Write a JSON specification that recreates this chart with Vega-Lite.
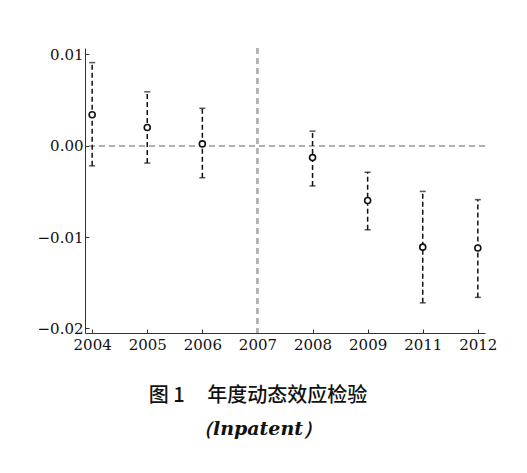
{
  "$schema": "https://vega.github.io/schema/vega-lite/v6.json",
  "autosize": {"type": "none"},
  "padding": {"left": 85, "top": 48, "right": 42, "bottom": 140},
  "width": 400,
  "height": 285,
  "background": "white",
  "title": {
    "text": "图 1\u00a0\u00a0\u00a0\u00a0\u00a0年度动态效应检验",
    "subtitle": "（lnpatent）",
    "orient": "bottom",
    "anchor": "middle",
    "dx": -27,
    "offset": 34,
    "font": "Noto Sans CJK SC",
    "fontSize": 20,
    "fontWeight": 500,
    "color": "#111",
    "subtitleFont": "DejaVu Serif",
    "subtitleFontSize": 19,
    "subtitleFontWeight": "bold",
    "subtitleFontStyle": "italic",
    "subtitleColor": "#111",
    "subtitlePadding": 14
  },
  "data": {
    "values": [
      {"year": "2004", "est": 0.0034, "lo": -0.0022, "hi": 0.0091},
      {"year": "2005", "est": 0.0020, "lo": -0.0019, "hi": 0.0059},
      {"year": "2006", "est": 0.0002, "lo": -0.0035, "hi": 0.0041},
      {"year": "2008", "est": -0.0013, "lo": -0.0044, "hi": 0.0016},
      {"year": "2009", "est": -0.0060, "lo": -0.0092, "hi": -0.0029},
      {"year": "2011", "est": -0.0111, "lo": -0.0172, "hi": -0.0050},
      {"year": "2012", "est": -0.0112, "lo": -0.0166, "hi": -0.0059}
    ]
  },
  "encoding": {
    "x": {
      "field": "year",
      "type": "nominal",
      "scale": {"type": "point", "domain": ["2004", "2005", "2006", "2007", "2008", "2009", "2011", "2012"], "padding": 0.13},
      "axis": {
        "title": null,
        "labelAngle": 0,
        "labelFont": "DejaVu Serif",
        "labelFontSize": 15,
        "labelColor": "#111",
        "labelPadding": 8,
        "domainColor": "#333",
        "tickColor": "#333",
        "tickSize": -4,
        "grid": false
      }
    }
  },
  "layer": [
    {
      "mark": {"type": "rule", "color": "#b0b0b0", "strokeDash": [6, 4], "strokeWidth": 1.5},
      "encoding": {"x": null, "y": {"datum": 0, "type": "quantitative"}}
    },
    {
      "mark": {"type": "rule", "color": "#b0b0b0", "strokeDash": [6, 4], "strokeWidth": 1.5},
      "encoding": {"x": {"datum": "2007", "type": "nominal"}}
    },
    {
      "mark": {"type": "rule", "color": "#111", "strokeDash": [5, 3], "strokeWidth": 1.5},
      "encoding": {
        "y": {
          "field": "lo",
          "type": "quantitative",
          "scale": {"domain": [-0.0205, 0.0107], "nice": false, "zero": false},
          "axis": {
            "title": null,
            "values": [-0.02, -0.01, 0, 0.01],
            "labelExpr": "replace(format(datum.value, '.2f'), '-', '\u2212')",
            "labelFont": "DejaVu Serif",
            "labelFontSize": 15,
            "labelColor": "#111",
            "labelPadding": 6,
            "domainColor": "#333",
            "tickColor": "#333",
            "tickSize": -4,
            "grid": false
          }
        },
        "y2": {"field": "hi"}
      }
    },
    {
      "mark": {"type": "tick", "color": "#111", "size": 6, "thickness": 1.5},
      "encoding": {"y": {"field": "lo", "type": "quantitative"}}
    },
    {
      "mark": {"type": "tick", "color": "#111", "size": 6, "thickness": 1.5},
      "encoding": {"y": {"field": "hi", "type": "quantitative"}}
    },
    {
      "mark": {"type": "point", "shape": "circle", "size": 36, "filled": false, "fill": "white", "fillOpacity": 1, "stroke": "#111", "strokeWidth": 1.6, "opacity": 1},
      "encoding": {"y": {"field": "est", "type": "quantitative"}}
    }
  ],
  "config": {"view": {"stroke": null}}
}
